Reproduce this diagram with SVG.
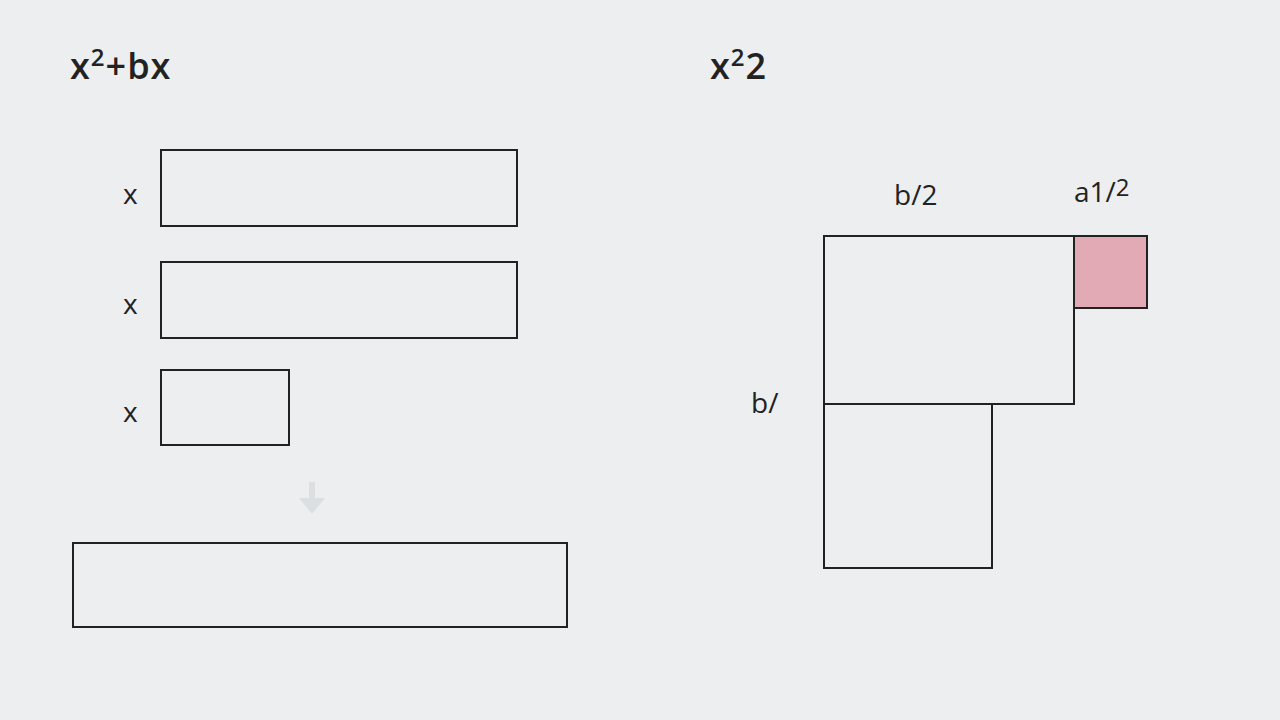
<svg xmlns="http://www.w3.org/2000/svg" width="1280" height="720" viewBox="0 0 1280 720">
<style>
.b{fill:none;stroke:#222;stroke-width:2}
.t{font-family:"Open Sans","Liberation Sans",sans-serif;fill:#222}
.h{font-size:36px;font-weight:600}
.l{font-size:28px}
</style>
<rect width="1280" height="720" fill="#eceef0"/>
<text class="t h" x="70" y="79" letter-spacing="1">x<tspan font-size="24" dy="-13">2</tspan><tspan dy="13">+bx</tspan></text>
<text class="t h" x="710" y="79" letter-spacing="1">x<tspan font-size="24" dy="-13">2</tspan><tspan dy="13">2</tspan></text>
<g id="r1"><rect class="b" x="161" y="150" width="356" height="76"/><text class="t l" x="123" y="204">x</text></g>
<g id="r2"><rect class="b" x="161" y="262" width="356" height="76"/><text class="t l" x="123" y="314">x</text></g>
<g id="r3"><rect class="b" x="161" y="370" width="128" height="75"/><text class="t l" x="123" y="422">x</text></g>
<g id="connectors"><path d="M309 482v16h-10l13 16 13-16h-10v-16z" fill="#dcdfe2"/></g>
<g id="r4"><rect class="b" x="73" y="543" width="494" height="84"/></g>
<g id="sq1"><rect class="b" x="824" y="236" width="250" height="168"/><text class="t l" x="894" y="205">b/2</text></g>
<g id="sq2"><rect x="1074" y="236" width="73" height="72" fill="#e2aab4" stroke="#222" stroke-width="2"/><text class="t l" x="1074" y="202">a1/<tspan font-size="24" dy="-6">2</tspan></text></g>
<g id="sq3"><rect class="b" x="824" y="404" width="168" height="164"/><text class="t l" x="751" y="413">b/</text></g>
</svg>
